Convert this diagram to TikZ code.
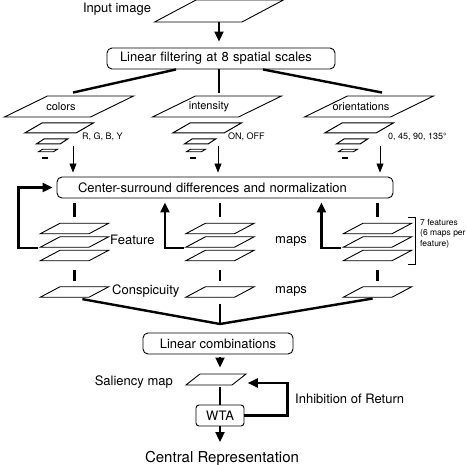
\documentclass[tikz,border=0pt]{standalone}
\usepackage{fontspec}
\setmainfont{TeX Gyre Heros}
\usetikzlibrary{shapes.geometric,arrows.meta}

\tikzset{
  plane/.style={trapezium, draw, line width=0.9pt, fill=white},
  bigplane/.style={plane, inner xsep=21.5pt, inner ysep=10.5pt, trapezium left angle=26, trapezium right angle=154},
  midplane/.style={plane, line width=1pt, inner xsep=17pt, inner ysep=5pt, trapezium left angle=30, trapezium right angle=150},
  smallplane/.style={plane, line width=1pt, inner xsep=8pt, inner ysep=2.5pt, trapezium left angle=33, trapezium right angle=147},
  tinyplane/.style={plane, line width=0.9pt, inner xsep=5.5pt, inner ysep=1.25pt, trapezium left angle=32, trapezium right angle=148},
  stackplane/.style={plane, inner xsep=14.5pt, inner ysep=5.25pt, trapezium left angle=28, trapezium right angle=152},
  salplane/.style={plane, inner xsep=16pt, inner ysep=5.5pt, trapezium left angle=38, trapezium right angle=142},
  box/.style={draw, line width=0.9pt, rounded corners=5pt, minimum height=21pt},
  small/.style={font=\fontsize{9}{10.5}\selectfont},
  thickline/.style={line width=2.4pt},
  bigarrow/.style={line width=2pt, -{Triangle[length=10pt,width=9pt]}},
  colarrow/.style={line width=0.9pt, -{Triangle[length=9pt,width=7pt]}},
  fbarrow/.style={line width=2.2pt, -{Triangle[length=10pt,width=9pt]}, shorten >=4pt},
}

\begin{document}
\begin{tikzpicture}[x=1pt,y=-1pt, every node/.style={inner sep=0pt, font=\fontsize{13}{15}\selectfont}]
  \useasboundingbox (0,0) rectangle (467,465);

  \node[bigplane, inner xsep=23pt, inner ysep=11pt, trapezium left angle=28, trapezium right angle=152] (input) at (219,11) {};
  \node (inputlab) at (117,9) {Input image};
  \node[box, inner xsep=13pt, text width=202pt, align=left] (filter) at (221,58.5) {Linear filtering at 8 spatial scales};
  \node[box, inner xsep=21pt, text width=294pt, align=left] (cs) at (225,187.5) {Center-surround differences and normalization};

  \draw[bigarrow, shorten >=6pt] (input.south) -- (input.south |- filter.north);

  % feature channels
  \foreach \n/\x/\a/\name/\lab/\lx in {colors/69/73/colors/{R, G, B, Y}/82,
      intensity/217/218/intensity/{ON, OFF}/228,
      orient/369/380/orientations/{0, 45, 90, 135°}/388}{
    \node[bigplane, label={[xshift=-8pt, font=\fontsize{11}{13}\selectfont]center:\name}] (\n) at (\x,106.5) {};
    \node[midplane] (\n m) at (\x-10,128) {};
    \node[smallplane] (\n s) at (\x-17,141.5) {};
    \node[tinyplane] (\n t) at (\x-21,150.5) {};
    \draw[line width=1.5pt] (\x-27,158) -- (\x-21,158);
    \node[small, anchor=west] (\n lab) at (\lx,137) {\lab};
    \coordinate (\n a) at (\a,146);
    \draw[colarrow, shorten >=4pt] (\n a) -- (\n a |- cs.north);
  }

  \draw[thickline] ([xshift=-45pt]filter.south) -- ([xshift=4pt,yshift=3pt]colors.north);
  \draw[thickline] ([xshift=-2pt]filter.south) -- ([xshift=2pt,yshift=3pt]intensity.north);
  \draw[thickline] ([xshift=42pt]filter.south) -- ([xshift=13pt,yshift=3pt]orient.north);

  % feature and conspicuity maps
  \foreach \n/\x in {L/74.5, M/220, R/377.5}{
    \node[stackplane] (\n1) at (\x,228.5) {};
    \node[stackplane] (\n2) at (\x,242) {};
    \node[stackplane] (\n3) at (\x,255.5) {};
    \node[stackplane] (\n c) at (\x,292) {};
    \draw[thickline, shorten <=5pt, shorten >=6pt] (\n1.north |- cs.south) -- (\n1.north);
    \draw[thickline, shorten <=9pt, shorten >=5pt] (\n3.south) -- (\n c.north);
  }

  \draw[fbarrow] (L2.bottom left corner) -- ++(-20,0) |- (cs.west);
  \draw[fbarrow] (M2.bottom left corner) -- ++(-19,0) coordinate (mfb) -- (mfb |- cs.south);
  \draw[fbarrow] (R2.bottom left corner) -- ++(-20,0) coordinate (rfb) -- (rfb |- cs.south);

  \node[anchor=west] (featlab) at (110,240) {Feature};
  \node[anchor=west] (conslab) at (112,291) {Conspicuity};
  \node[anchor=west] (mapsa) at (275,241) {maps};
  \node[anchor=west] (mapsb) at (275,291) {maps};

  \draw[line width=0.9pt] (408,217) -- (415,217) -- (415,264) -- (408,264);
  \node[font=\fontsize{8.5}{10.5}\selectfont, anchor=north west, align=left] (featnote) at (420,219) {7 features\\(6 maps per\\feature)};

  % combination
  \coordinate (join) at (220,324);
  \draw[thickline, shorten <=8pt] (Lc.south) -- (join);
  \draw[thickline, shorten <=6pt] (Mc.south) -- (join);
  \draw[thickline, shorten <=5pt] (Rc.south) -- (join);

  \node[box, minimum width=150pt] (lincomb) at (218,343.5) {Linear combinations};
  \node[salplane] (sal) at (216,379.5) {};
  \node[anchor=east] (sallab) at (173,382) {Saliency map};
  \node[box, minimum width=48pt, rounded corners=3pt] (wta) at (220,415.5) {WTA};
  \node[font=\fontsize{15}{17}\selectfont] (central) at (222,458.5) {Central Representation};
  \node[anchor=west] (iorlab) at (295,399) {Inhibition of Return};

  \draw[bigarrow, shorten <=3pt, shorten >=6pt] (join |- lincomb.south) -- (join |- sal.north);
  \draw[thickline, shorten <=2pt] (wta.north |- sal.south) -- (wta.north);
  \draw[bigarrow, shorten >=9pt] (wta.south) -- (wta.south |- central.north);
  \draw[fbarrow, shorten >=8pt] (wta.east) -- ++(43,0) |- ([yshift=-3.5pt]sal.east);
\end{tikzpicture}
\end{document}
